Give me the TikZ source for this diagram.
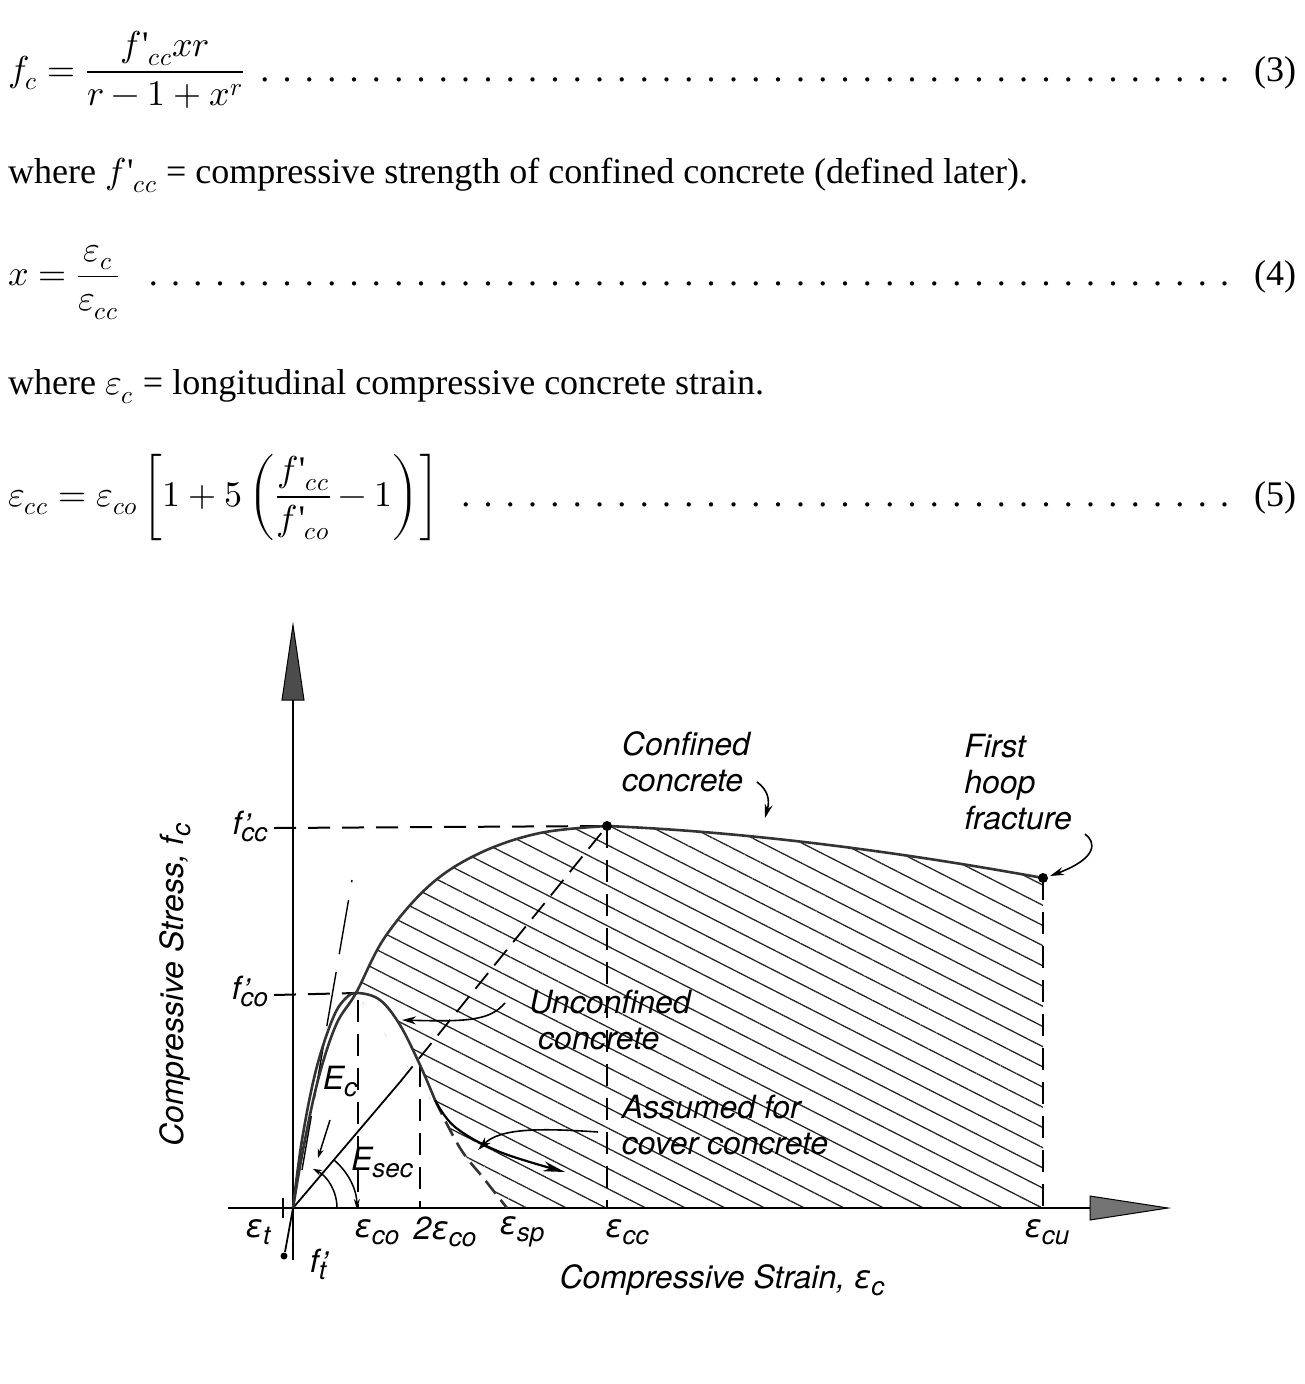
\documentclass[tikz,border=0pt]{standalone}
\usepackage{amsmath}
\usepackage{fontspec}
\usepackage{unicode-math}
\setmainfont{Liberation Serif}
\setsansfont{TeX Gyre Heros}
\setmathfont{Latin Modern Math}
\newfontfamily\gk{DejaVu Sans}
\usetikzlibrary{patterns.meta,arrows.meta,calc}
\newcommand{\eqline}[2]{\hbox to 1288pt{#1\ \leaders\hbox to 0.62em{\hss.\hss}\hfill\ (#2)}}
\newcommand{\lab}[1]{\fontsize{32}{36}\selectfont\sffamily\itshape #1}
\newcommand{\sbx}[1]{\raisebox{-7pt}{\fontsize{26}{26}\selectfont #1}}
\newcommand{\ep}[1]{{\gk\itshape ε}\sbx{#1}}
\newcommand{\fp}[1]{f\rlap{\kern2pt\raisebox{-2pt}{'}}\sbx{#1}}
\newcommand{\pr}{\text{\kern1pt\textquotesingle}}
\begin{document}
\begin{tikzpicture}[x=1pt,y=-1pt,
  txt/.style={inner sep=0,anchor=west,font=\fontsize{36}{42}\selectfont},
  fl/.style={inner sep=1pt,font=\lab{}},
  curve/.style={line width=2.6pt,draw=black!80},
  dsh/.style={line width=2pt,dash pattern=on 22pt off 12pt},
  ldr/.style={line width=1.6pt,-{Stealth[length=14pt,width=8pt]}}]
\useasboundingbox (0,0) rectangle (1305,1384);
% equations
\node[txt] (e3) at (8,70) {\eqline{$f_c=\dfrac{f\pr_{cc}xr}{r-1+x^r}$}{3}};
\node[txt] (t1) at (8,175) {where $f\pr_{cc}$ = compressive strength of confined concrete (defined later).};
\node[txt] (e4) at (8,282) {\eqline{$x=\dfrac{\varepsilon_c}{\varepsilon_{cc}}$}{4}};
\node[txt] (t2) at (8,387) {where $\varepsilon_c$ = longitudinal compressive concrete strain.};
\node[txt] (e5) at (8,497) {\eqline{$\varepsilon_{cc}=\varepsilon_{co}\left[1+5\left(\dfrac{f\pr_{cc}}{f\pr_{co}}-1\right)\right]$}{5}};
% coordinates
\coordinate (O) at (293,1208);
\coordinate (pk) at (607,826);
\coordinate (hf) at (1043,878);
\coordinate (up) at (356,993);
% hatch
\fill[pattern={Lines[angle=-27,distance=18pt,line width=1.3pt]},pattern color=black!85]
  plot[smooth,tension=0.6] coordinates {(356,993)(385,937)(430,885)(480,853)(540,833)(607,826)}
  .. controls (750,832) and (900,852) .. (hf) -- (1043,1208) -- (507,1208)
  plot[smooth,tension=0.6] coordinates {(507,1208)(485,1180)(460,1148)(435,1100)(420,1065)(400,1025)(380,1000)(356,993)} -- cycle;
% axes
\draw[line width=2pt] (228,1208) -- (1100,1208);
\draw[line width=2.4pt] (293,1260) -- (293,690);
\fill[black!70,draw=black,line width=1pt] (293,625) -- (304,700) -- (282,700) -- cycle;
\fill[black!55,draw=black,line width=1pt] (1168,1208) -- (1090,1196) -- (1090,1220) -- cycle;
% dashed levels
\draw[dsh] (274,828) -- (pk);
\draw[dsh] (274,995) -- (up);
\draw[dsh] (607,826) -- (607,1208);
\draw[dsh] (1043,878) -- (1043,1208);
\draw[dsh] (358,1000) -- (358,1208);
\draw[dsh] (420,1065) -- (420,1208);
% secant
\draw[line width=1.8pt] (O) -- (400,1082);
\draw[line width=1.8pt,dash pattern=on 20pt off 10pt] (400,1082) -- (pk);
% tangent
\draw[line width=1.4pt,dash pattern=on 55pt off 18pt] (302,1170) -- (352,880);
% curves
\draw[curve] plot[smooth,tension=0.6] coordinates {(293,1208)(303,1150)(318,1080)(336,1025)(356,993)(385,937)(430,885)(480,853)(540,833)(607,826)}
  .. controls (750,832) and (900,852) .. (hf);
\draw[curve] plot[smooth,tension=0.6] coordinates {(293,1208)(302,1140)(316,1070)(333,1018)(346,998)(358,993)(380,1000)(400,1025)(420,1065)(435,1100)};
\draw[curve,dash pattern=on 16pt off 8pt] plot[smooth,tension=0.6] coordinates {(435,1100)(460,1148)(485,1180)(507,1208)};
\draw[line width=2.2pt,-{Stealth[length=22pt,width=10pt]}] plot[smooth,tension=0.6] coordinates {(435,1100)(455,1127)(500,1152)(565,1172)};
\fill (pk) circle (5pt);
\fill (hf) circle (5pt);
% tension
\draw[line width=1.8pt] (O) -- (285,1252);
\fill (284,1256) circle (3.5pt);
\draw[line width=1.5pt] (283,1198) -- (283,1218);
% arcs
\draw[line width=1.5pt,-{Stealth[length=9pt,width=6pt]}] (337,1208) arc[start angle=0,end angle=-63,radius=44];
\draw[line width=1.5pt,-{Stealth[length=10pt,width=6pt]}] ($(O)+(41,-48)$) arc[start angle=-50,end angle=0,radius=64];
\draw[line width=1.5pt,-{Stealth[length=9pt,width=6pt]}] (330,1120) -- (318,1158);
% labels
\node[fl,rotate=90] (ys) at (175,985) {Compressive Stress, f\sbx{c}};
\node[fl] (xs) at (722,1280) {Compressive Strain, \ep{c}};
\node[fl] (lcc) at (250,826) {\fp{cc}};
\node[fl] (lco) at (250,991) {\fp{co}};
\node[fl] (lec) at (340,1082) {E\sbx{c}};
\node[fl] (les) at (382,1163) {E\sbx{sec}};
\node[fl] (l1) at (258,1232) {\ep{t}};
\node[fl] (l2) at (377,1232) {\ep{co}};
\node[fl] (l3) at (445,1232) {2\ep{co}};
\node[fl] (l4) at (522,1232) {\ep{sp}};
\node[fl] (l5) at (627,1232) {\ep{cc}};
\node[fl] (l6) at (1047,1232) {\ep{cu}};
\node[fl] (lft) at (318,1264) {\fp{t}};
\node[fl,align=left] (conf) at (686,762) {Confined\\concrete};
\node[fl,align=left] (hoop) at (1018,782) {First\\hoop\\fracture};
\node[fl,align=left] (unc) at (610,1020) {Unconfined\\\ concrete};
\node[fl,align=left] (ass) at (725,1125) {Assumed for\\cover concrete};
\draw[ldr] (757,782) .. controls (768,790) and (770,800) .. (765,818);
\draw[ldr] (1085,834) .. controls (1096,842) and (1098,858) .. (1050,876);
\draw[ldr] (505,1003) .. controls (490,1020) and (470,1022) .. (402,1020);
\draw[ldr] (598,1132) .. controls (540,1128) and (500,1128) .. (478,1150);
\end{tikzpicture}
\end{document}
